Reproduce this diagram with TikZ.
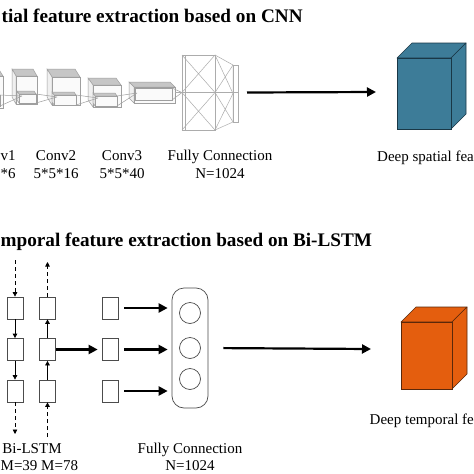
\documentclass[tikz,border=0pt]{standalone}
\usepackage{fontspec}
\setmainfont{Liberation Serif}
\usetikzlibrary{arrows.meta}
\definecolor{cubeblue}{RGB}{61,124,152}
\definecolor{cubeblueedge}{RGB}{25,55,70}
\definecolor{cubeorange}{RGB}{228,94,14}
\definecolor{cubeorangeedge}{RGB}{90,40,10}
\newcommand{\cnnbox}[6]{%
 \filldraw[cnnline, fill=gray!45] (#1,#2) -- (#3-#5,#2) -- (#3,#2+#6) -- (#1+#5,#2+#6) -- cycle;
 \filldraw[cnnline, fill=gray!12] (#1,#2) -- (#1+#5,#2+#6) -- (#1+#5,#4) -- (#1,#4-#6) -- cycle;
 \filldraw[cnnline, fill=gray!4] (#1+#5,#2+#6) rectangle (#3,#4);
}
\begin{document}
\begin{tikzpicture}[x=1pt,y=-1pt,
  lbl/.style={font=\fontsize{15}{18}\selectfont, inner sep=0pt, anchor=base},
  ttl/.style={font=\fontsize{19.2}{22}\selectfont\bfseries, inner sep=0pt, anchor=base west},
  cnnline/.style={draw=gray!75, line width=0.5pt},
  fcline/.style={draw=gray!65, line width=0.5pt},
  lbox/.style={draw=black!70, line width=0.7pt, minimum width=16pt, minimum height=22pt, inner sep=0pt},
  neuron/.style={draw=black!70, line width=0.7pt, circle, minimum size=21pt, inner sep=0pt},
  fcbox/.style={draw=black!70, line width=0.7pt, rounded corners=12pt, minimum width=36pt, minimum height=120pt, inner sep=0pt},
  bigarrow/.style={line width=2.2pt, -{Triangle[length=9pt,width=9pt]}},
  smallarrow/.style={line width=0.7pt, -{Triangle[length=4.5pt,width=4.5pt]}},
  dasharrow/.style={smallarrow, dash pattern=on 4pt off 3pt},
]
\useasboundingbox (0,0) rectangle (474,474);
\clip (0,0) rectangle (474,474);
\fill[white] (0,0) rectangle (474,474);

% titles (as printed, cut at the left edge)
\node[ttl] (t1) at (1.5,22) {tial feature extraction based on CNN};
\node[ttl] (t2) at (0.5,246) {mporal feature extraction based on Bi-LSTM};

% ---------------- CNN part ----------------
\cnnbox{-30}{68}{3}{108}{5}{8}
\cnnbox{12}{69}{37}{104}{4}{7}
\cnnbox{47}{69}{80}{105}{5}{8}
\cnnbox{88}{78}{121}{107}{5}{7}
\cnnbox{129}{82}{175}{103}{5}{5}
% kernels
\cnnbox{-22}{92}{0}{106}{2}{3}
\cnnbox{17}{91}{36}{103}{2}{3}
\cnnbox{52}{92}{76}{105}{2}{3}
\cnnbox{93}{93}{117}{106}{2}{3}
\draw[cnnline] (135,88) rectangle (172,100);
% connection lines
\draw[cnnline] (0,95) -- (22,96) (0,106) -- (22,96);
\draw[cnnline] (36,94) -- (57,97) (36,103) -- (57,97);
\draw[cnnline] (76,95) -- (98,98) (76,105) -- (98,98);
\draw[cnnline] (117,96) -- (137,93) (117,106) -- (137,93);
\draw[cnnline] (172,88) -- (182,92.5) (172,100) -- (182,92.5);
% fully connection (top)
\draw[fcline] (182,55) rectangle (215,130);
\draw[fcline] (185,55) -- (185,130);
\draw[fcline] (215,55) -- (233,65) -- (233,122) -- (215,130);
\draw[fcline] (233,65) rectangle (238,122);
\draw[fcline] (182,55) -- (215,92.5) (215,55) -- (182,92.5)
                 (182,92.5) -- (215,130) (215,92.5) -- (182,130);
\draw[fcline] (215,55) -- (233,93.5) (233,65) -- (215,92.5)
                 (215,92.5) -- (233,122) (233,93.5) -- (215,130);
\draw[fcline] (175,92.5) -- (238,92.5);
\coordinate (fctop) at (238,92.5);

% blue cube
\coordinate (bcube) at (397,92);
\filldraw[fill=cubeblue, draw=cubeblueedge, line width=0.6pt, line join=round]
  (397,58) -- (412,43) -- (466,43) -- (451,58) -- cycle;
\filldraw[fill=cubeblue, draw=cubeblueedge, line width=0.6pt, line join=round]
  (451,58) -- (466,43) -- (466,114) -- (451,129) -- cycle;
\filldraw[fill=cubeblue, draw=cubeblueedge, line width=0.6pt]
  (397,58) rectangle (451,129);
\draw[bigarrow] (fctop) ++(9,0) -- ([xshift=-21pt]bcube);

% top labels
\node[lbl, anchor=base west] (c1a) at (0.5,160) {v1};
\node[lbl, anchor=base west] (c1b) at (0.5,178) {*6};
\node[lbl] (c2a) at (56,160) {Conv2};
\node[lbl] (c2b) at (56,178) {5*5*16};
\node[lbl] (c3a) at (122,160) {Conv3};
\node[lbl] (c3b) at (122,178) {5*5*40};
\node[lbl] (f1a) at (220,160) {Fully Connection};
\node[lbl] (f1b) at (220,178) {N=1024};
\node[lbl, anchor=base west] (d1) at (377,161) {Deep spatial fea};

% ---------------- Bi-LSTM part ----------------
\node[lbox] (a1) at (15,308) {};
\node[lbox] (a2) at (15,349.5) {};
\node[lbox] (a3) at (15,391) {};
\node[lbox] (b1) at (47.5,308) {};
\node[lbox] (b2) at (47.5,349.5) {};
\node[lbox] (b3) at (47.5,391) {};
\node[lbox] (h1) at (110,308) {};
\node[lbox] (h2) at (110,349.5) {};
\node[lbox] (h3) at (110,391) {};
\coordinate (a0) at (15,260);
\coordinate (a4) at (15,434);
\coordinate (b0) at (47.5,262);
\coordinate (b4) at (47.5,437);

\draw[dasharrow] (a0) -- (a1.north);
\draw[smallarrow] (a1.south) -- (a2.north);
\draw[smallarrow] (a2.south) -- (a3.north);
\draw[dasharrow] (a3.south) -- (a4);
\draw[dasharrow] (b4) -- (b3.south);
\draw[smallarrow] (b3.north) -- (b2.south);
\draw[smallarrow] (b2.north) -- (b1.south);
\draw[dasharrow] (b1.north) -- (b0);

\draw[bigarrow, shorten >=4pt] (b2.east) -- (h2.west);

\node[fcbox] (fc) at (190,348) {};
\node[neuron] (n1) at (190,313) {};
\node[neuron] (n2) at (190,348) {};
\node[neuron] (n3) at (190,379) {};

\draw[bigarrow, shorten <=6pt, shorten >=4pt] (h1.east) -- (fc.west |- h1.east);
\draw[bigarrow, shorten <=6pt, shorten >=4pt] (h2.east) -- (fc.west |- h2.east);
\draw[bigarrow, shorten <=6pt, shorten >=4pt] (h3.east) -- (fc.west |- h3.east);

% orange cube
\coordinate (ocube) at (401,349);
\filldraw[fill=cubeorange, draw=cubeorangeedge, line width=0.6pt, line join=round]
  (401,322) -- (416,307) -- (467,307) -- (452,322) -- cycle;
\filldraw[fill=cubeorange, draw=cubeorangeedge, line width=0.6pt, line join=round]
  (452,322) -- (467,307) -- (467,374) -- (452,389) -- cycle;
\filldraw[fill=cubeorange, draw=cubeorangeedge, line width=0.6pt]
  (401,322) rectangle (452,389);
\draw[bigarrow, shorten <=15pt] (fc.east |- n2) -- ([xshift=-30pt]ocube);

% bottom labels
\node[lbl] (l1a) at (32,453) {Bi-LSTM};
\node[lbl, anchor=base west] (l1b) at (0.5,470) {M=39 M=78};
\node[lbl] (f2a) at (190,453) {Fully Connection};
\node[lbl] (f2b) at (190,470) {N=1024};
\node[lbl, anchor=base west] (d2) at (369.5,424) {Deep temporal fe};
\end{tikzpicture}
\end{document}
